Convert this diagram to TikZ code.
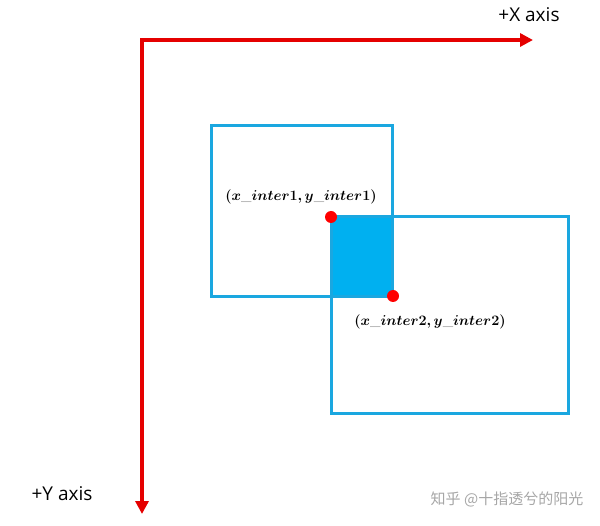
\documentclass[tikz,border=0pt]{standalone}
\usepackage{fontspec}
\usepackage{amsmath,bm}
\setsansfont{Open Sans}
\newfontfamily\cjk{Noto Sans CJK SC}
\usetikzlibrary{arrows.meta}
\definecolor{boxblue}{HTML}{1AA7E0}
\definecolor{fillblue}{HTML}{00B0F0}
\tikzset{axis/.style={red!90!black,line width=4pt,-{Triangle[length=13pt,width=13pt]}},
 rect/.style={draw=boxblue,line width=3pt},
 dot/.style={circle,fill=red,inner sep=0pt,minimum size=12pt},
 lab/.style={font=\sffamily\fontsize{19}{22}\selectfont},
 coord/.style={font=\fontsize{15}{18}\selectfont}}
\begin{document}
\begin{tikzpicture}[x=1pt,y=-1pt]
\useasboundingbox (0,0) rectangle (600,526);
\fill[fillblue] (331,217) rectangle (392,297);
\draw[rect] (211,126) rectangle (392,297);
\draw[rect] (331,217) rectangle (568,414);
\coordinate (o) at (142,40);
\coordinate (xe) at (533,40);
\coordinate (ye) at (142,514);
\draw[axis] ([xshift=-2pt]o) -- (xe);
\draw[axis] (o) -- (ye);
\node[lab] (xl) at (529,15) {+X axis};
\node[lab] (yl) at (62,494) {+Y axis};
\node[dot] (p1) at (331,217) {};
\node[dot] (p2) at (393,296) {};
\node[coord] (l1) at (301,197) {$\bm{(x\_inter1,y\_inter1)}$};
\node[coord] (l2) at (430,322) {$\bm{(x\_inter2,y\_inter2)}$};
\node[text=gray!70,font=\cjk\fontsize{15}{18}\selectfont] (wm) at (507,499) {知乎 @十指透兮的阳光};
\end{tikzpicture}
\end{document}
